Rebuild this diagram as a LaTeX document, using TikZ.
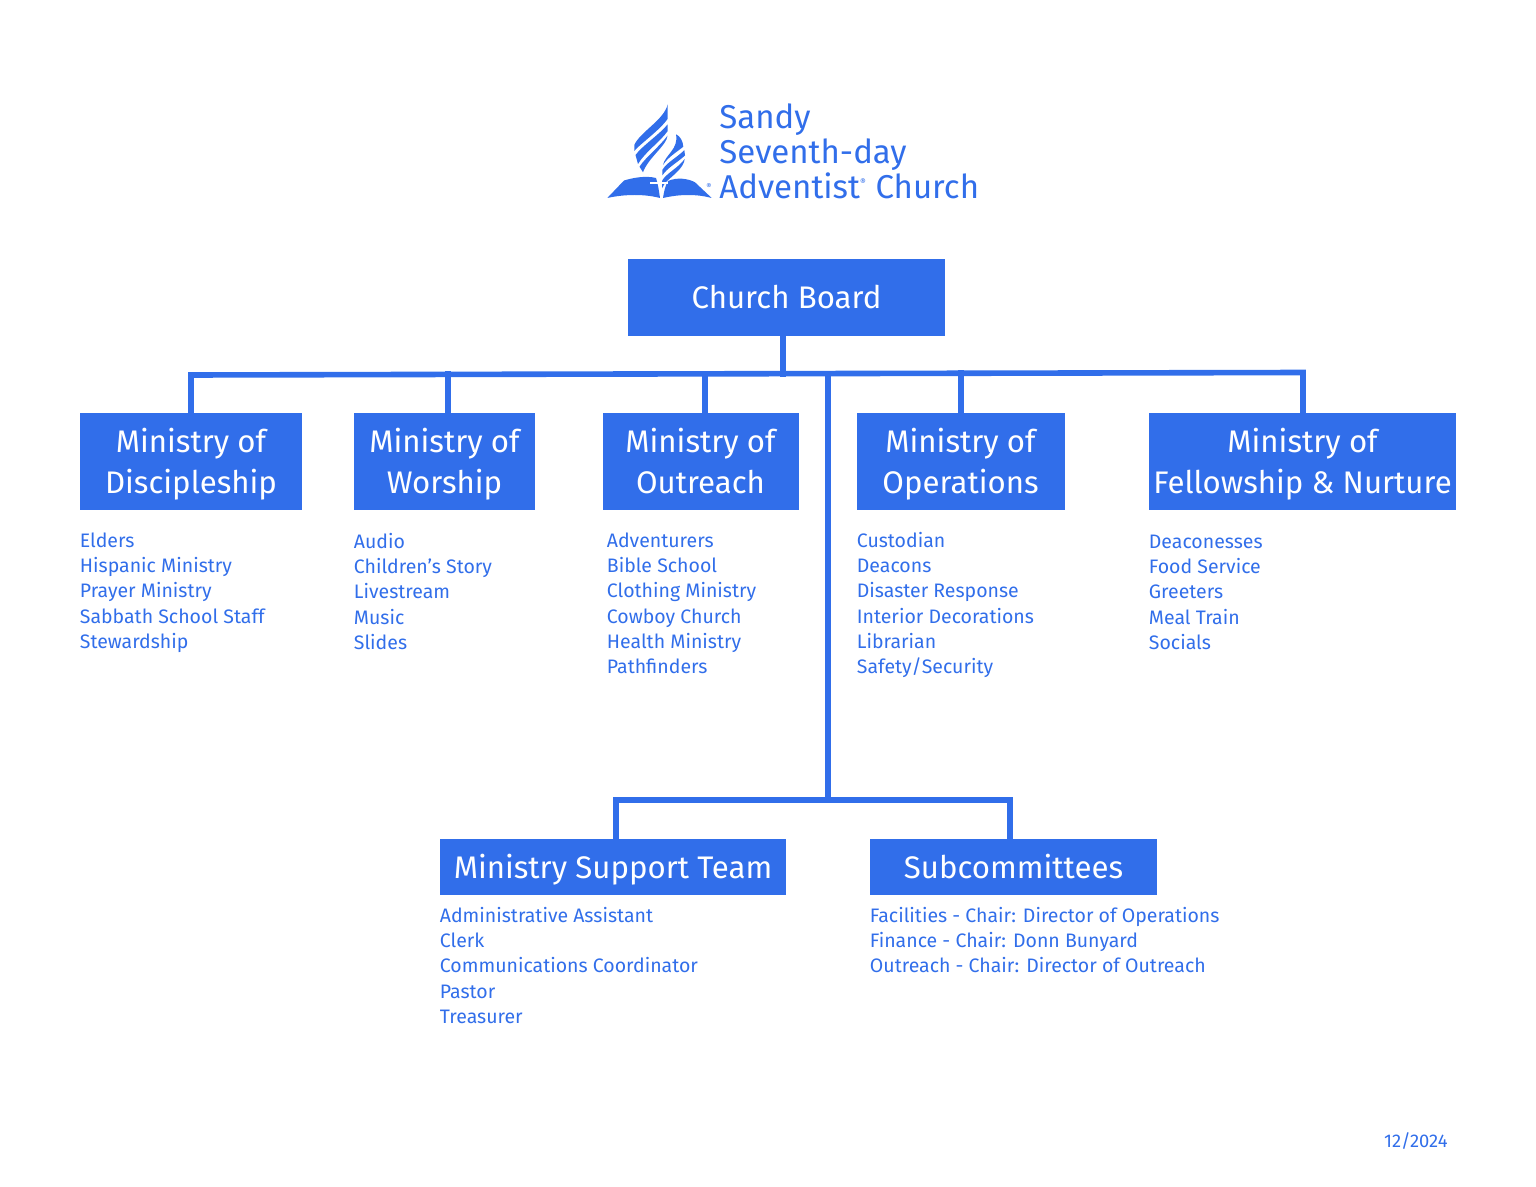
\documentclass[tikz,border=0pt]{standalone}
\usepackage{fontspec}
\setmainfont{Fira Sans}
\definecolor{churchblue}{HTML}{316EEA}
\newcommand{\headstrut}{\rule[-4.65pt]{0pt}{20.5pt}}
\tikzset{
  headbox/.style={fill=churchblue,text=white,inner sep=0pt,align=center,
    font=\fontsize{15.6}{20.5}\selectfont},
  duties/.style={anchor=north west,inner sep=0pt,align=left,text=churchblue,
    font=\fontsize{9.75}{12.6}\selectfont},
  link/.style={draw=churchblue,line width=2.8pt,line cap=rect},
}
\begin{document}
\begin{tikzpicture}[x=0.5pt,y=-0.5pt]
   \useasboundingbox (0,0) rectangle (1536,1187);

   % logo, large flame
   \fill[churchblue] (667.7,104.3) .. controls (664,120) and (640,132) .. (634.3,145)
      -- (634.3,151) .. controls (640,144) and (660,130) .. (667.5,119) -- cycle;
   \fill[churchblue] (635.5,155) .. controls (642,146) and (660,134) .. (667.7,124.3)
      -- (667.7,131) .. controls (660,142) and (645,152) .. (638,164) -- cycle;
   \fill[churchblue] (639.5,166.7) .. controls (645,158) and (660,146) .. (667.5,135.7)
      .. controls (667,145) and (648,158) .. (643,172.3) -- cycle;
   % small flame
   \fill[churchblue] (676,134.3) .. controls (680,136) and (683,141) .. (683.3,146.7)
      .. controls (677,152) and (668,157) .. (663,165)
      .. controls (665,155) and (679,149) .. (676,134.3) -- cycle;
   \fill[churchblue] (684.3,150) .. controls (685,152) and (685,153) .. (685,155.5)
      .. controls (678,162) and (667,168) .. (662.3,175.5)
      -- (662.3,170) .. controls (667,162) and (678,157) .. (684.3,150) -- cycle;
   \fill[churchblue] (684.7,159) .. controls (684,168) and (672,176) .. (665,183)
      -- (661,190) .. controls (660.5,186) and (661,183) .. (662.5,180)
      .. controls (667,173) and (678,168) .. (684.7,159) -- cycle;
   % book
   \fill[churchblue] (607.3,198) -- (624,180.5) .. controls (634,177.5) and (646,175.5) .. (656,178)
      .. controls (658,184) and (659,191) .. (660,198) .. controls (645,194) and (625,194) .. (607.3,198) -- cycle;
   \fill[churchblue] (711.7,198) -- (695,182.3) .. controls (688,178.5) and (677,177) .. (668,181)
      .. controls (665,186) and (664,192) .. (663,198) .. controls (680,194) and (697,194) .. (711.7,198) -- cycle;
   \draw[white,line width=1pt] (650,183.5) -- (668,183.5);
   \draw[white,line width=1.2pt] (661,177) -- (661,198);
   \node[text=churchblue,font=\fontsize{4}{4}\selectfont,inner sep=0pt] (regmark) at (709,186.5) {®};

   \node[anchor=north west,inner sep=0pt,text=churchblue,align=left,
     font=\fontsize{16.5}{17.4}\selectfont] (wordmark) at (719,103.5)
     {Sandy\\Seventh-day\\Adventist\textsuperscript{\fontsize{4.5}{5}\selectfont ®} Church};

   % top level
   \node[headbox,minimum width=158.5pt,minimum height=38.5pt] (board) at (786.5,297.5) {\headstrut Church Board};

   % ministries
   \node[headbox,minimum width=111pt,minimum height=48.5pt] (discipleship) at (191,461.5) {\headstrut Ministry of\hspace{3pt}\\\headstrut Discipleship};
   \node[headbox,minimum width=90.5pt,minimum height=48.5pt] (worship) at (444.5,461.5) {\headstrut Ministry of\hspace{3pt}\\\headstrut Worship};
   \node[headbox,minimum width=98pt,minimum height=48.5pt] (outreach) at (700.5,461.5) {\headstrut Ministry of\hspace{3pt}\\\headstrut Outreach};
   \node[headbox,minimum width=104pt,minimum height=48.5pt] (operations) at (960.5,461.5) {\headstrut Ministry of\hspace{3pt}\\\headstrut Operations};
   \node[headbox,minimum width=153.5pt,minimum height=48.5pt] (fellowship) at (1302.5,461.5) {\headstrut Ministry of\hspace{3pt}\\\headstrut Fellowship \& Nurture};

   % lower boxes
   \node[headbox,minimum width=173pt,minimum height=28pt] (support) at (613,867) {\headstrut Ministry Support Team};
   \node[headbox,minimum width=143.5pt,minimum height=28pt] (subcommittees) at (1013.5,867) {\headstrut Subcommittees};

   % lists
   \node[duties] (discipleshiplist) at (79.5,529.4) {\strut Elders\\Hispanic Ministry\\Prayer Ministry\\Sabbath School Staff\\Stewardship};
   \node[duties] (worshiplist) at (353.5,530.4) {\strut Audio\\Children’s Story\\Livestream\\Music\\Slides};
   \node[duties] (outreachlist) at (606.5,529.4) {\strut Adventurers\\Bible School\\Clothing Ministry\\Cowboy Church\\Health Ministry\\Pathfinders};
   \node[duties] (operationslist) at (856.5,529.4) {\strut Custodian\\Deacons\\Disaster Response\\Interior Decorations\\Librarian\\Safety/Security};
   \node[duties] (fellowshiplist) at (1148.5,530.4) {\strut Deaconesses\\Food Service\\Greeters\\Meal Train\\Socials};
   \node[duties] (supportlist) at (439.5,904.4) {\strut Administrative Assistant\\Clerk\\Communications Coordinator\\Pastor\\Treasurer};
   \node[duties] (subcommitteeslist) at (869.5,904.4) {\strut Facilities - Chair: Director of Operations\\Finance - Chair: Donn Bunyard\\Outreach - Chair: Director of Outreach};

   \node[anchor=east,inner sep=0pt,text=churchblue,font=\fontsize{9.2}{10}\selectfont] (revision) at (1448,1141) {12/2024};

   % connectors
   \coordinate (busleft) at (191,375);
   \coordinate (busright) at (1303,372.5);
   \coordinate (bustrunk) at (783,374);
   \coordinate (busworship) at (448,374);
   \coordinate (busoutreach) at (705,374);
   \coordinate (busoperations) at (961,373);
   \coordinate (stem) at (828,374);
   \coordinate (lowleft) at (616,800);
   \coordinate (lowright) at (1010,800);

   \draw[link] (board.south -| bustrunk) -- (bustrunk);
   \draw[link] (discipleship.north -| busleft) -- (busleft) -- (busright) -- (fellowship.north -| busright);
   \draw[link] (busworship) -- (worship.north -| busworship);
   \draw[link] (busoutreach) -- (outreach.north -| busoutreach);
   \draw[link] (busoperations) -- (operations.north -| busoperations);
   \draw[link] (stem) -- (stem |- lowleft);
   \draw[link] (support.north -| lowleft) -- (lowleft) -- (lowright) -- (subcommittees.north -| lowright);
\end{tikzpicture}
\end{document}
